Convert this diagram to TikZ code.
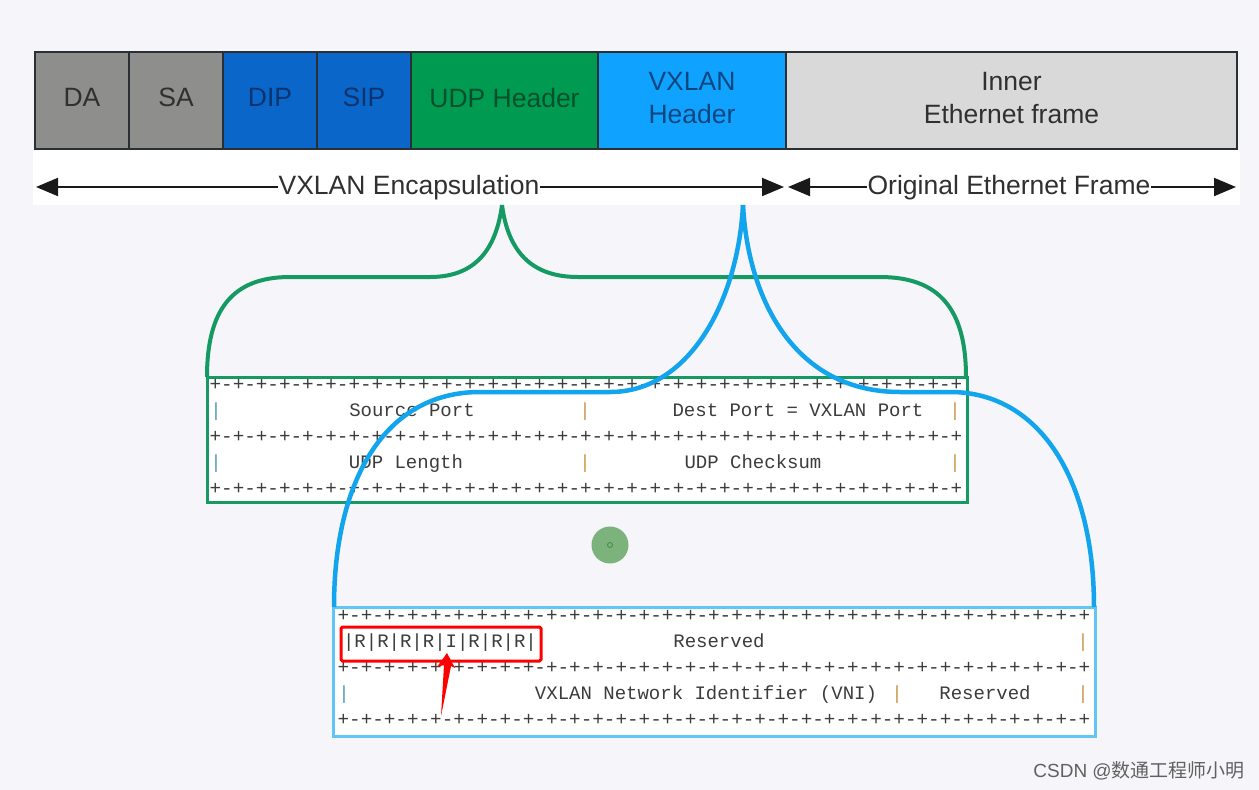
\documentclass[tikz,border=0pt]{standalone}
\usepackage{fontspec}
\setmainfont{Liberation Sans}
\setmonofont{Liberation Mono}
\newfontfamily\cjkwm{Noto Sans CJK SC}
\usetikzlibrary{arrows.meta}
\definecolor{bgc}{HTML}{F6F5F9}
\definecolor{grayc}{HTML}{8E8E8C}
\definecolor{bluec}{HTML}{0A66C8}
\definecolor{greenc}{HTML}{009A50}
\definecolor{skyc}{HTML}{0FA3FF}
\definecolor{lightc}{HTML}{D9D9D9}
\definecolor{edgec}{HTML}{2A2F33}
\definecolor{bracec}{HTML}{149A62}
\definecolor{curvec}{HTML}{12A5EE}
\definecolor{tabtwo}{HTML}{62C6F5}
\definecolor{monoc}{HTML}{3C3C3C}
\definecolor{orangebar}{HTML}{C99A50}
\definecolor{bluebar}{HTML}{5B9BB8}
\definecolor{dotc}{HTML}{7CB27C}
\definecolor{inkgray}{HTML}{303030}
\definecolor{inkblue}{HTML}{0B3470}
\definecolor{inkgreen}{HTML}{04502C}
\definecolor{inksky}{HTML}{0B4680}
\tikzset{
  fieldbox/.style={draw=edgec,line width=2pt,outer sep=0pt,minimum height=97pt,inner sep=0pt,text depth=6pt,anchor=north west,align=center,font=\fontsize{26.5}{33}\selectfont},
  spanlabel/.style={font=\fontsize{26.5}{33}\selectfont,text=inkgray,inner sep=0pt,fill=white},
  spanline/.style={line width=2pt,draw=black!90},
  tipL/.style={{Triangle[length=22pt,width=18pt]}-},
  tipR/.style={-{Triangle[length=22pt,width=18pt]}},
  monotext/.style={font=\fontsize{19}{19}\ttfamily\selectfont,text=monoc,inner sep=0pt,text height=13pt,text depth=4pt},
  rulerow/.style={monotext,font=\fontsize{19.3}{19}\ttfamily\selectfont},
  barorange/.style={monotext,text=orangebar},
  barblue/.style={monotext,text=bluebar},
  tableone/.style={draw=bracec,fill=white,line width=3pt,outer sep=0pt,anchor=north west,inner sep=0pt,minimum width=760pt,minimum height=125pt},
  tabletwo/.style={draw=tabtwo,fill=white,line width=3pt,outer sep=0pt,anchor=north west,inner sep=0pt,minimum width=762pt,minimum height=129pt},
  bracegreen/.style={draw=bracec,line width=4pt},
  braceblue/.style={draw=curvec,line width=4.5pt},
}
\begin{document}
\begin{tikzpicture}[x=1pt,y=-1pt]
\useasboundingbox (0,0) rectangle (1259,790);
\fill[bgc] (0,0) rectangle (1259,790);
\fill[white] (33,150) rectangle (1240,205);
% top fields
\node[fieldbox,fill=grayc,minimum width=94pt,text=inkgray] (da) at (35,52) {DA};
\node[fieldbox,fill=grayc,minimum width=94pt,text=inkgray] (sa) at (129,52) {SA};
\node[fieldbox,fill=bluec,minimum width=94pt,text=inkblue] (dip) at (223,52) {DIP};
\node[fieldbox,fill=bluec,minimum width=94pt,text=inkblue] (sip) at (317,52) {SIP};
\node[fieldbox,fill=greenc,minimum width=187pt,text=inkgreen] (udp) at (411,52) {UDP Header};
\node[fieldbox,fill=skyc,minimum width=188pt,text=inksky] (vx) at (598,52) {VXLAN\\Header};
\node[fieldbox,fill=lightc,minimum width=451pt,text=inkgray] (inner) at (786,52) {Inner\\Ethernet frame};
% spans
\node[spanlabel] (enc) at (409,188) {VXLAN Encapsulation};
\node[spanlabel] (orig) at (1009,188) {Original Ethernet Frame};
\coordinate (encL) at (36,187);
\coordinate (encR) at (784,187);
\coordinate (origL) at (788,187);
\coordinate (origR) at (1236,187);
\draw[spanline,tipL] (encL) -- (enc.west |- encL);
\draw[spanline,tipR] (enc.east |- encR) -- (encR);
\draw[spanline,tipL] (origL) -- (orig.west |- origL);
\draw[spanline,tipR] (orig.east |- origR) -- (origR);
% table one
\node[tableone] (t1) at (207,377) {};
\foreach \n/\y in {a/386,b/438,c/490}
  \node[rulerow] (r1\n) at (586,\y) {+-+-+-+-+-+-+-+-+-+-+-+-+-+-+-+-+-+-+-+-+-+-+-+-+-+-+-+-+-+-+-+-+};
\node[barblue] (b11) at (216,412) {|};
\node[barorange] (b12) at (585,412) {|};
\node[barorange] (b13) at (955,412) {|};
\node[barblue] (b14) at (216,464) {|};
\node[barorange] (b15) at (585,464) {|};
\node[barorange] (b16) at (955,464) {|};
\node[monotext] (srcp) at (412,412) {Source Port};
\node[monotext] (dstp) at (798,412) {Dest Port = VXLAN Port};
\node[monotext] (ulen) at (406,464) {UDP Length};
\node[monotext] (ucs) at (753,464) {UDP Checksum};
% table two
\node[tabletwo] (t2) at (333,607) {};
\foreach \n/\y in {a/617,b/669,c/721}
  \node[rulerow] (r2\n) at (714,\y) {+-+-+-+-+-+-+-+-+-+-+-+-+-+-+-+-+-+-+-+-+-+-+-+-+-+-+-+-+-+-+-+-+};
\node[monotext] (flags) at (440,643) {|R|R|R|R|I|R|R|R|};
\node[monotext] (res1) at (719,643) {Reserved};
\node[barorange] (b21) at (1083,643) {|};
\node[barblue] (b22) at (344,695) {|};
\node[monotext] (vni) at (706,695) {VXLAN Network Identifier (VNI)};
\node[barorange] (b23) at (897,695) {|};
\node[monotext] (res2) at (985,695) {Reserved};
\node[barorange] (b24) at (1083,695) {|};
% red highlight
\node[draw=red,line width=3pt,outer sep=0pt,rounded corners=1.5pt,anchor=north west,inner sep=0pt,minimum width=200pt,minimum height=34pt] (hl) at (341,627) {};
\fill[red] (447,653) -- (455,668) -- (451,666) -- (441,716) -- (444,665) -- (437,667) -- cycle;
% central dot
\node[circle,fill=dotc,minimum size=37pt,inner sep=0pt] (dot) at (610,545) {};
\node[circle,draw=green!30!black!70,line width=0.8pt,minimum size=5pt,inner sep=0pt] (dotcentre) at (610,545) {};
% braces
\coordinate (gtip) at (502,205);
\coordinate (gl) at (207,377);
\coordinate (gr) at (966,377);
\coordinate (btip) at (743,205);
\coordinate (bl) at (334,607);
\coordinate (br) at (1094,607);
\draw[bracegreen] (gl) .. controls (207,310) and (232,277) .. (290,277) -- (430,277)
  .. controls (475,277) and (496,250) .. (gtip);
\draw[bracegreen] (gtip) .. controls (508,250) and (530,277) .. (578,277) -- (880,277)
  .. controls (940,277) and (966,310) .. (gr);
\draw[braceblue] (bl) .. controls (334,480) and (385,392) .. (480,392) -- (610,392)
  .. controls (690,392) and (738,300) .. (btip);
\draw[braceblue] (btip) .. controls (748,300) and (795,392) .. (900,392) -- (950,392)
  .. controls (1040,392) and (1094,480) .. (br);
% watermark
\node[inner sep=0pt,anchor=east,text=black!62,font=\fontsize{19}{20}\selectfont] (wm) at (1245,771) {CSDN @{\cjkwm 数通工程师小明}};
\end{tikzpicture}
\end{document}
